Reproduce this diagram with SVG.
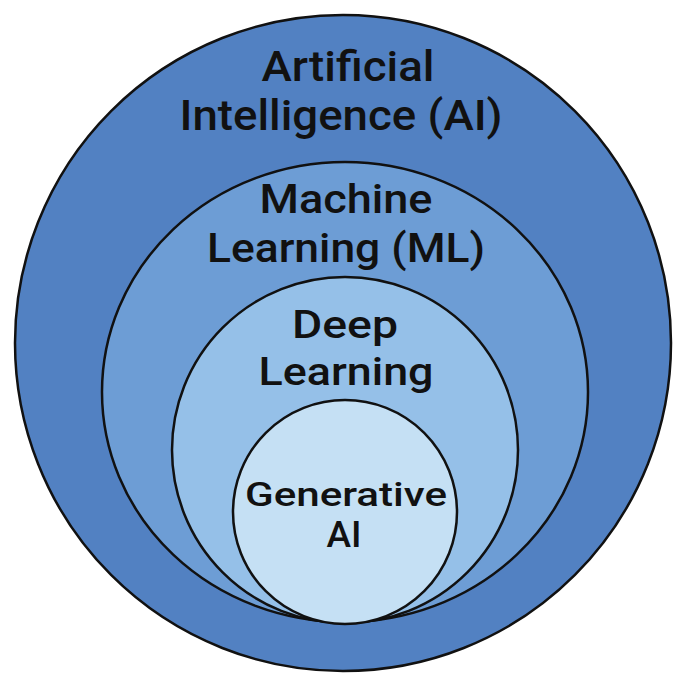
<svg xmlns="http://www.w3.org/2000/svg" width="685" height="685" viewBox="0 0 685 685">
<style>
circle,ellipse{stroke:#111;stroke-width:2.5}
text{font-family:Roboto,"Liberation Sans",Arial,sans-serif;font-weight:500;fill:#111;text-anchor:middle}
</style>
<rect width="685" height="685" fill="#fff"/>
<g id="ai"><circle cx="343" cy="343" r="328" fill="#5281c2"/>
<text x="348" y="81" font-size="42" textLength="173" lengthAdjust="spacingAndGlyphs">Artificial</text>
<text x="341" y="130" font-size="42" textLength="323" lengthAdjust="spacingAndGlyphs">Intelligence (AI)</text></g>
<g id="ml"><ellipse cx="345" cy="392" rx="243" ry="230" fill="#6d9dd5"/>
<text x="346" y="213" font-size="40" textLength="173" lengthAdjust="spacingAndGlyphs">Machine</text>
<text x="346" y="262" font-size="40" textLength="278" lengthAdjust="spacingAndGlyphs">Learning (ML)</text></g>
<g id="dl"><circle cx="345" cy="450" r="173" fill="#95c0e8"/>
<text x="345" y="338" font-size="38" textLength="106" lengthAdjust="spacingAndGlyphs">Deep</text>
<text x="346" y="385" font-size="38" textLength="175" lengthAdjust="spacingAndGlyphs">Learning</text></g>
<g id="gen"><circle cx="345" cy="512" r="112" fill="#c5e0f4"/>
<text x="346" y="506" font-size="33" textLength="202" lengthAdjust="spacingAndGlyphs">Generative</text>
<text x="344" y="547" font-size="37">AI</text></g>
<g id="connectors"/>
</svg>
